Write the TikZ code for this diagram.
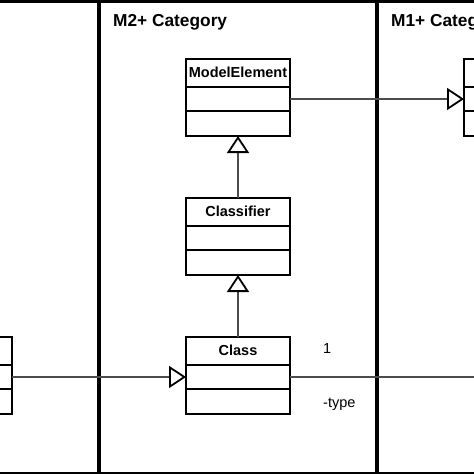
\documentclass[tikz,border=0pt]{standalone}
\usepackage{fontspec}
\setmainfont{Liberation Sans}
\usetikzlibrary{positioning,arrows.meta}
\begin{document}
\begin{tikzpicture}[x=1pt, y=-1pt,
    hdr/.style={draw, line width=1.8pt, outer sep=0pt, inner sep=0pt, minimum width=104pt, minimum height=28pt, text height=11pt, text depth=3pt, font=\fontsize{14.5}{17}\selectfont\bfseries},
    rowa/.style={draw, line width=1.8pt, outer sep=0pt, inner sep=0pt, minimum width=104pt, minimum height=24pt},
    rowb/.style={rowa, minimum height=25pt},
    title/.style={anchor=base west, inner sep=0pt, font=\fontsize{17.3}{20}\selectfont\bfseries},
    lbl/.style={anchor=base west, inner sep=0pt, font=\fontsize{14.5}{17}\selectfont},
    gen/.style={line width=1.2pt, draw=black!70, -{Triangle[open, length=17pt, width=22pt, line width=1.8pt, color=black]}},
    assoc/.style={line width=1.2pt, draw=black!70}]
        \clip (0,0) rectangle (474,474);
        % lanes
        \draw[line width=3pt] (-10,1) -- (490,1);
        \draw[line width=3pt] (-10,473.5) -- (490,473.5);
        \draw[line width=4pt] (98.5,-10) -- (98.5,490);
        \draw[line width=4pt] (376.5,-10) -- (376.5,490);
        \node[title] (t2) at (113,26) {M2+ Category};
        \node[title] (t1) at (391,26) {M1+ Category};
        % classes
        \node[hdr, anchor=north] (me) at (238,59) {ModelElement};
        \node[rowa, below=0pt of me] (me-a) {};
        \node[rowb, below=0pt of me-a] (me-o) {};
        \node[hdr, anchor=north] (cf) at (238,198) {Classifier};
        \node[rowa, below=0pt of cf] (cf-a) {};
        \node[rowb, below=0pt of cf-a] (cf-o) {};
        \node[hdr, anchor=north] (cl) at (238,337) {Class};
        \node[rowa, below=0pt of cl] (cl-a) {};
        \node[rowb, below=0pt of cl-a] (cl-o) {};
        \node[hdr, anchor=north west] (rb) at (464,59) {};
        \node[rowa, below=0pt of rb] (rb-a) {};
        \node[rowb, below=0pt of rb-a] (rb-o) {};
        \node[hdr, anchor=north east] (lb) at (12,337) {};
        \node[rowa, below=0pt of lb] (lb-a) {};
        \node[rowb, below=0pt of lb-a] (lb-o) {};
        % connectors
        \draw[gen] (cf.north) -- (me-o.south);
        \draw[gen] (cl.north) -- (cf-o.south);
        \draw[gen] (me-a.east) -- (rb-a.west);
        \draw[gen] (lb-a.east) -- (cl-a.west);
        \coordinate (rt) at (490,377);
        \draw[assoc] (cl-a.east) -- (rt);
        \node[lbl] (mult) at (323,353) {1};
        \node[lbl] (role) at (323,407) {-type};
    \end{tikzpicture}
\end{document}
